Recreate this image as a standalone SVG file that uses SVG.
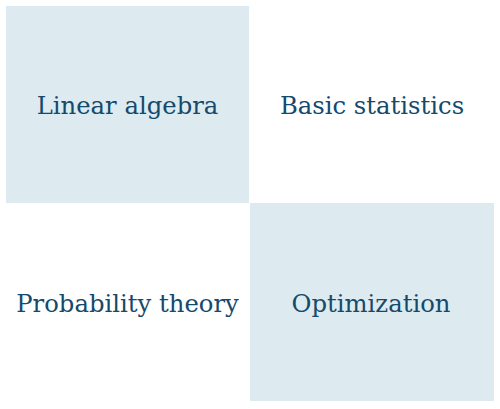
<svg xmlns="http://www.w3.org/2000/svg" width="500" height="409" viewBox="0 0 500 409">
<style>
.cell{fill:#ddeaef}
.lbl{font-family:"DejaVu Serif","Liberation Serif",serif;font-size:24.3px;fill:#154a6c;text-anchor:middle}
</style>
<rect width="500" height="409" fill="#ffffff"/>
<g id="linear-algebra"><rect class="cell" x="6" y="6" width="243" height="197"/><text class="lbl" x="127.5" y="114">Linear algebra</text></g>
<g id="basic-statistics"><text class="lbl" x="372" y="114">Basic statistics</text></g>
<g id="probability-theory"><text class="lbl" x="127.5" y="312">Probability theory</text></g>
<g id="optimization"><rect class="cell" x="250" y="203" width="244" height="198"/><text class="lbl" x="371" y="312">Optimization</text></g>
<g id="connectors"></g>
</svg>
